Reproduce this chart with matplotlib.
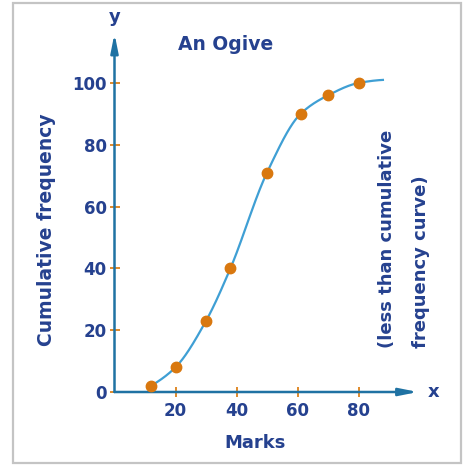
import numpy as np
import matplotlib
matplotlib.use("Agg")
import matplotlib.pyplot as plt
from matplotlib.patches import Rectangle

# Data
marks = [12, 20, 30, 38, 50, 61, 70, 80]
cum_freq = [2, 8, 23, 40, 71, 90, 96, 100]
curve_end_x = 88
curve_end_y = 101
x_ticks = [20, 40, 60, 80]
y_ticks = [0, 20, 40, 60, 80, 100]

NAVY = "#25418f"
AXIS = "#1f72a3"
CURVE = "#3f9fd4"
ORANGE = "#d9780f"
TICK = "#e08a2a"

W, H = 474, 470
fig = plt.figure(figsize=(W / 100, H / 100), dpi=100)
fig.patch.set_facecolor("white")

# frame
fig.patches.append(Rectangle((13 / W, 1 - 463 / H), (461 - 13) / W, (463 - 3) / H,
                             transform=fig.transFigure, fill=False,
                             edgecolor="#c4c4c4", lw=1.6))

x0px, y0px = 114.5, 392
sx, sy = 3.05, 3.09
xmax, ymax = 100, 116
ax = fig.add_axes([x0px / W, (H - y0px) / H, xmax * sx / W, ymax * sy / H])
ax.set_xlim(0, xmax)
ax.set_ylim(0, ymax)
ax.patch.set_alpha(0)
for s in ax.spines.values():
    s.set_visible(False)


def pchip(x, y, xs):
    x = np.asarray(x, float); y = np.asarray(y, float)
    h = np.diff(x); d = np.diff(y) / h
    n = len(x); m = np.zeros(n)
    for k in range(1, n - 1):
        if d[k - 1] * d[k] > 0:
            w1 = 2 * h[k] + h[k - 1]; w2 = h[k] + 2 * h[k - 1]
            m[k] = (w1 + w2) / (w1 / d[k - 1] + w2 / d[k])
    m[0] = d[0] * 0.8
    m[-1] = d[-1] * 0.4
    out = np.empty_like(xs)
    for i, xv in enumerate(xs):
        k = min(np.searchsorted(x, xv) - 1, n - 2)
        k = max(k, 0)
        t = (xv - x[k]) / h[k]
        h00 = 2 * t**3 - 3 * t**2 + 1; h10 = t**3 - 2 * t**2 + t
        h01 = -2 * t**3 + 3 * t**2; h11 = t**3 - t**2
        out[i] = h00 * y[k] + h10 * h[k] * m[k] + h01 * y[k + 1] + h11 * h[k] * m[k + 1]
    return out


cx = list(marks) + [curve_end_x]
cy = list(cum_freq) + [curve_end_y]
xs = np.linspace(cx[0], cx[-1], 400)
ax.plot(xs, pchip(cx, cy, xs), color=CURVE, lw=1.6, zorder=3, clip_on=False)
ax.plot(marks, cum_freq, "o", color=ORANGE, ms=7.5, zorder=4, clip_on=False)

# axes with arrows
ax.annotate("", xy=(99.5, 0), xytext=(0, 0),
            arrowprops=dict(arrowstyle="-|>,head_length=1.1,head_width=0.22",
                            color=AXIS, lw=1.8, shrinkA=0, shrinkB=0), annotation_clip=False)
ax.annotate("", xy=(0, 116), xytext=(0, 0),
            arrowprops=dict(arrowstyle="-|>,head_length=1.1,head_width=0.22",
                            color=AXIS, lw=1.8, shrinkA=0, shrinkB=0), annotation_clip=False)

font = dict(family="DejaVu Sans", weight="bold", color=NAVY)
ax.set_xticks(x_ticks)
ax.set_yticks(y_ticks)
ax.set_xticklabels([str(v) for v in x_ticks], fontsize=12, **font)
ax.set_yticklabels([str(v) for v in y_ticks], fontsize=12, **font)
ax.tick_params(axis="both", direction="inout", length=7, width=1.4, color=TICK, pad=2)
ax.tick_params(axis="x", pad=4)

ax.text(104.5, 0, "x", fontsize=13, ha="center", va="center", clip_on=False, **font)
ax.text(0, 121.5, "y", fontsize=13, ha="center", va="center", clip_on=False, **font)

fig.text(226 / W, 1 - 44 / H, "An Ogive", fontsize=13.5, ha="center", va="center", **font)
fig.text(255 / W, 1 - 443 / H, "Marks", fontsize=13, ha="center", va="center", **font)
fig.text(47 / W, 1 - 230 / H, "Cumulative frequency", fontsize=13.5, rotation=90,
         ha="center", va="center", **font)
fig.text(387 / W, 1 - 348 / H, "(less than cumulative", fontsize=13, rotation=90,
         ha="center", va="bottom", **font)
fig.text(421 / W, 1 - 348 / H, "frequency curve)", fontsize=13, rotation=90,
         ha="center", va="bottom", **font)

fig.savefig("out.png", dpi=100, facecolor="white")
